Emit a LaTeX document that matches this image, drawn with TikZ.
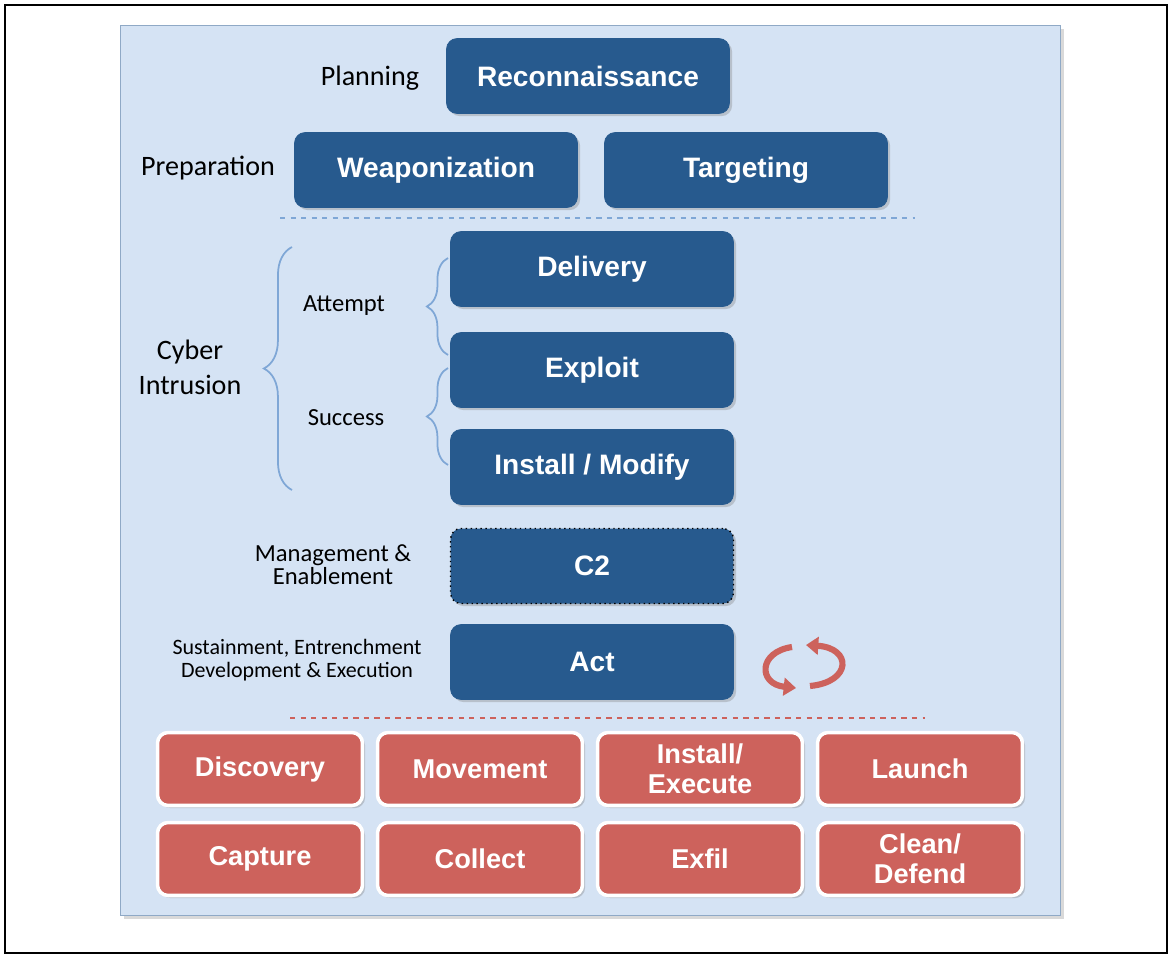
\documentclass[tikz,border=0pt]{standalone}
\usepackage{fontspec}
\setmainfont{Carlito}
\newfontfamily\boxfont{Liberation Sans}
\usetikzlibrary{shadows,decorations.pathreplacing,arrows.meta}
\definecolor{mypanel}{HTML}{D5E3F4}
\definecolor{mypanelline}{HTML}{8FA9C6}
\definecolor{myblue}{HTML}{275A8E}
\definecolor{myred}{HTML}{CD625C}
\definecolor{mybrace}{HTML}{7FA7D6}
\tikzset{
  stage/.style={draw=myblue, fill=myblue, rounded corners=6pt, text=white,
    font=\boxfont\bfseries\fontsize{16}{16}\selectfont, align=center,
    minimum width=5.66cm, minimum height=1.5cm,
    drop shadow={opacity=0.35, shadow xshift=1.5pt, shadow yshift=-1.5pt}},
  act/.style={draw=white, line width=2pt, fill=myred, rounded corners=6pt, text=white,
    font=\boxfont\bfseries\fontsize{15.5}{17}\selectfont, align=center,
    minimum width=4.1cm, minimum height=1.46cm,
    drop shadow={opacity=0.35, shadow xshift=1.5pt, shadow yshift=-1.5pt}},
  lbl/.style={font=\fontsize{16}{16}\selectfont, align=center},
  brc/.style={draw=mybrace, line width=1pt, decorate, decoration={brace, amplitude=12pt}},
  cyc/.style={myred, line width=3.5pt, -{Triangle[length=7pt,width=10pt]}}
}
\begin{document}
\begin{tikzpicture}[x=0.02cm, y=-0.02cm]
\useasboundingbox (0,0) rectangle (1173,960);

% FRAME AND PANEL
\draw[black, line width=1pt] (5,5) rectangle (1167,953);
\draw[mypanelline, fill=mypanel, drop shadow={opacity=0.3}] (120,25) rectangle (1060,915);

% UPPER STAGES
\node[stage] (recon) at (588,76) {Reconnaissance};
\node[stage] (weapon) at (436,170) {Weaponization};
\node[stage] (target) at (746,170) {Targeting};
\draw[mybrace, dashed, line width=1pt] (280,218) -- (915,218);

% INTRUSION STAGES
\node[stage] (delivery) at (592,269) {Delivery};
\node[stage] (exploit) at (592,370) {Exploit};
\node[stage] (install) at (592,467) {Install / Modify};
\node[stage, draw=black, dotted, line width=0.8pt] (ctwo) at (592,566) {C2};
\node[stage] (act) at (592,662) {Act};

% LABELS
\node[lbl] (planning) at (370,78) {Planning};
\node[lbl] (prep) at (208,168) {Preparation};
\node[lbl, font=\fontsize{14}{14}\selectfont] (attempt) at (344,306) {Attempt};
\node[lbl, font=\fontsize{14}{14}\selectfont] (success) at (346,418) {Success};
\node[lbl, font=\fontsize{16}{20}\selectfont] (cyber) at (190,367) {Cyber\\Intrusion};
\node[lbl, font=\fontsize{14}{13}\selectfont] (mgmt) at (333,565) {Management \&\\Enablement};
\node[lbl, font=\fontsize{12.5}{13}\selectfont] (sustain) at (297,660) {Sustainment, Entrenchment\\Development \& Execution};

% BRACES
\draw[brc, decoration={amplitude=16pt}] (292,490) -- (292,247);
\draw[brc] (448,355) -- (448,258);
\draw[brc] (448,465) -- (448,368);

% CYCLE
\draw[cyc] (792,647) .. controls (758,652) and (758,684) .. (796,688);
\draw[cyc] (810,686) .. controls (852,682) and (852,648) .. (806,645);

% ACTIONS
\draw[myred, dashed, line width=1pt] (290,718) -- (925,718);
\foreach \name/\txt [count=\k from 0] in {disc/Discovery, move/Movement, inst/{Install/\\Execute}, launch/Launch} {
  \node[act] (\name) at ({260+220*\k},769) {\txt};
}
\foreach \name/\txt [count=\k from 0] in {capture/Capture, collect/Collect, exfil/Exfil, clean/{Clean/\\Defend}} {
  \node[act] (\name) at ({260+220*\k},859) {\txt};
}

\end{tikzpicture}
\end{document}
